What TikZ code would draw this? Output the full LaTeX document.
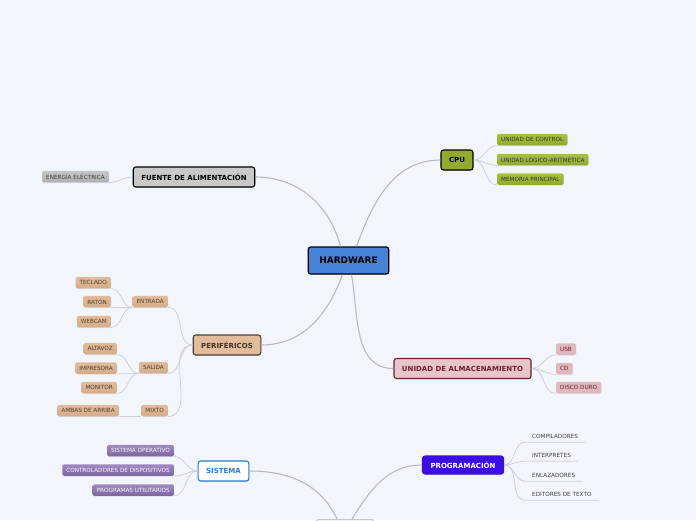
\documentclass[tikz,border=0pt]{standalone}
\usepackage{fontspec}
\setmainfont{DejaVu Sans}
\usetikzlibrary{positioning, shadows}
\definecolor{bgcol}{HTML}{F3F5FD}
\definecolor{linecol}{HTML}{B9B9C2}
\definecolor{twigcol}{HTML}{CFCFD8}
\definecolor{rootcol}{HTML}{4683D8}
\definecolor{greycol}{HTML}{C9C9C9}
\definecolor{greentop}{HTML}{A9C244}
\definecolor{greenbot}{HTML}{8FA92A}
\definecolor{pinkcol}{HTML}{E8C5CA}
\definecolor{maroon}{HTML}{6E2233}
\definecolor{tancol}{HTML}{E2BC9A}
\definecolor{tanbot}{HTML}{D4AC88}
\definecolor{brown}{HTML}{4F3F33}
\definecolor{purptop}{HTML}{A08AC0}
\definecolor{purpbot}{HTML}{7E64A0}
\definecolor{sysblue}{HTML}{2778DE}
\definecolor{progcol}{HTML}{3A0EE2}
\tikzset{
	x=1pt, y=-1pt, % one unit is one pixel of the reference, y runs down
	root/.style={draw=black, line width=1.2pt, rounded corners=2.5pt, fill=rootcol,
		minimum height=27pt, inner xsep=11pt, font=\fontsize{9}{10}\selectfont\bfseries,
		drop shadow={shadow xshift=0.6pt, shadow yshift=-0.8pt, opacity=0.25}},
	topic/.style={draw=black, line width=1.1pt, rounded corners=2.5pt,
		minimum height=20pt, inner xsep=8pt, font=\fontsize{7}{8}\selectfont\bfseries,
		drop shadow={shadow xshift=0.6pt, shadow yshift=-0.8pt, opacity=0.25}},
	leaf/.style={rounded corners=1.5pt, minimum height=11.5pt, inner xsep=4pt, inner ysep=0pt,
		font=\fontsize{5.7}{6}\selectfont,
		drop shadow={shadow xshift=0.4pt, shadow yshift=-0.8pt, opacity=0.2}},
	plainleaf/.style={anchor=west, minimum height=12pt, inner xsep=7pt, inner ysep=0pt,
		text=black!75, font=\fontsize{5.7}{6}\selectfont},
	branch/.style={draw=linecol, line width=1.1pt}, % from the centre to the topics
	twig/.style={draw=twigcol, line width=0.8pt}, % from a topic to its leaves
}

\begin{document}
\begin{tikzpicture}
	\fill[bgcol] (0,0) rectangle (696,520);
	\useasboundingbox (0,0) rectangle (696,520);
	% the centre
	\node[root] (Hardware) at (348.5,260.5) {HARDWARE};
	%% power supply
	\node[topic, fill=greycol] (Fuente) at (194,177) {FUENTE DE ALIMENTACIÓN};
	\node[leaf, anchor=east, top color=gray!45, bottom color=gray!62, text=black!75] (Energia) at (109,176.5) {ENERGÍA ELÉCTRICA};
	\draw[branch] ([xshift=-8pt]Hardware.north) to[out=105, in=0] (Fuente.east);
	\draw[twig] (Fuente.west) to[out=180, in=0] (Energia.south east);
	%% cpu
	\node[topic, fill=greenbot!90!greentop] (Cpu) at (457,160) {CPU};
	\node[leaf, anchor=west, top color=greentop, bottom color=greenbot, text=black!80] (Control) at (497,139.5) {UNIDAD DE CONTROL};
	\node[leaf, anchor=west, top color=greentop, bottom color=greenbot, text=black!80] (Logica) at (497,159.5) {UNIDAD LÓGICO-ARITMÉTICA};
	\node[leaf, anchor=west, top color=greentop, bottom color=greenbot, text=black!80] (Memoria) at (497,179) {MEMORIA PRINCIPAL};
	\draw[branch] ([xshift=8pt]Hardware.north) to[out=70, in=180] (Cpu.west);
	\draw[twig] (Cpu.east) to[out=0, in=180] (Control.south west)
		(Cpu.east) to[out=0, in=180] (Logica.south west)
		(Cpu.east) to[out=0, in=180] (Memoria.south west);
	%% storage
	\node[topic, fill=pinkcol, draw=maroon, text=maroon] (Almacen) at (462.5,368.5) {UNIDAD DE ALMACENAMIENTO};
	\node[leaf, anchor=west, fill=pinkcol!92!maroon, text=maroon] (Usb) at (556,349) {USB};
	\node[leaf, anchor=west, fill=pinkcol!92!maroon, text=maroon] (Cd) at (556,368.5) {CD};
	\node[leaf, anchor=west, fill=pinkcol!92!maroon, text=maroon] (Disco) at (556,387.5) {DISCO DURO};
	\draw[branch] ([xshift=3pt]Hardware.south) to[out=-80, in=180] (Almacen.west);
	\draw[twig] (Almacen.east) to[out=0, in=180] (Usb.south west)
		(Almacen.east) to[out=0, in=180] (Cd.south west)
		(Almacen.east) to[out=0, in=180] (Disco.south west);
	%% peripherals, in three groups
	\node[topic, fill=tancol, draw=brown, text=brown!80!black] (Perifericos) at (227,345) {PERIFÉRICOS};
	\draw[branch] ([xshift=-6pt]Hardware.south) to[out=-110, in=0] (Perifericos.east);
	\node[leaf, anchor=east, top color=tancol, bottom color=tanbot, text=brown] (Entrada) at (168,301.5) {ENTRADA};
	\node[leaf, anchor=east, top color=tancol, bottom color=tanbot, text=brown] (Salida) at (168,367.5) {SALIDA};
	\node[leaf, anchor=east, top color=tancol, bottom color=tanbot, text=brown] (Mixto) at (168,410.5) {MIXTO};
	\foreach \g in {Entrada, Salida, Mixto}
		\draw[twig] (Perifericos.west) to[out=180, in=0] (\g.south east);
	\node[leaf, anchor=east, top color=tancol, bottom color=tanbot, text=brown] (Teclado) at (111,282.5) {TECLADO};
	\node[leaf, anchor=east, top color=tancol, bottom color=tanbot, text=brown] (Raton) at (111,301.5) {RATÓN};
	\node[leaf, anchor=east, top color=tancol, bottom color=tanbot, text=brown] (Webcam) at (111,321.5) {WEBCAM};
	\foreach \l in {Teclado, Raton, Webcam}
		\draw[twig] (Entrada.south west) to[out=180, in=0] (\l.south east);
	\node[leaf, anchor=east, top color=tancol, bottom color=tanbot, text=brown] (Altavoz) at (117,348.5) {ALTAVOZ};
	\node[leaf, anchor=east, top color=tancol, bottom color=tanbot, text=brown] (Impresora) at (117,368) {IMPRESORA};
	\node[leaf, anchor=east, top color=tancol, bottom color=tanbot, text=brown] (Monitor) at (117,387.5) {MONITOR};
	\foreach \l in {Altavoz, Impresora, Monitor}
		\draw[twig] (Salida.south west) to[out=180, in=0] (\l.south east);
	\node[leaf, anchor=east, top color=tancol, bottom color=tanbot, text=brown] (Ambas) at (119,410.5) {AMBAS DE ARRIBA};
	\draw[twig] (Mixto.south west) to[out=180, in=0] (Ambas.south east);
	%% the lower centre, cut by the page edge
	\node[topic, draw=gray!45, line width=0.8pt, fill=gray!12, minimum width=58pt, anchor=north] (Software) at (345,519) {};
	%% system software
	\node[topic, fill=white, draw=sysblue, text=sysblue] (Sistema) at (223.5,471) {SISTEMA};
	\node[leaf, anchor=east, top color=purptop, bottom color=purpbot, text=white!92!purptop] (Operativo) at (174,450.5) {SISTEMA OPERATIVO};
	\node[leaf, anchor=east, top color=purptop, bottom color=purpbot, text=white!92!purptop] (Controladores) at (174,470) {CONTROLADORES DE DISPOSITIVOS};
	\node[leaf, anchor=east, top color=purptop, bottom color=purpbot, text=white!92!purptop] (Utilitarios) at (174,490) {PROGRAMAS UTILITARIOS};
	\draw[branch] ([xshift=-8pt]Software.north) to[out=115, in=0] (Sistema.east);
	\foreach \l in {Operativo, Controladores, Utilitarios}
		\draw[twig] (Sistema.west) to[out=180, in=0] (\l.south east);
	%% programming
	\node[topic, fill=progcol, draw=progcol, text=white, minimum height=18pt] (Programacion) at (463,465) {PROGRAMACIÓN};
	\draw[branch] ([xshift=7pt]Software.north) to[out=58, in=180] (Programacion.west);
	\node[plainleaf] (Compiladores) at (525,436) {COMPILADORES};
	\node[plainleaf] (Interpretes) at (525,455) {INTERPRETES};
	\node[plainleaf] (Enlazadores) at (525,475) {ENLAZADORES};
	\node[plainleaf] (Editores) at (525,494) {EDITORES DE TEXTO};
	\foreach \l in {Compiladores, Interpretes, Enlazadores, Editores}
		\draw[twig] (Programacion.east) to[out=0, in=180] (\l.south west) -- (\l.south east);
\end{tikzpicture}
\end{document}
